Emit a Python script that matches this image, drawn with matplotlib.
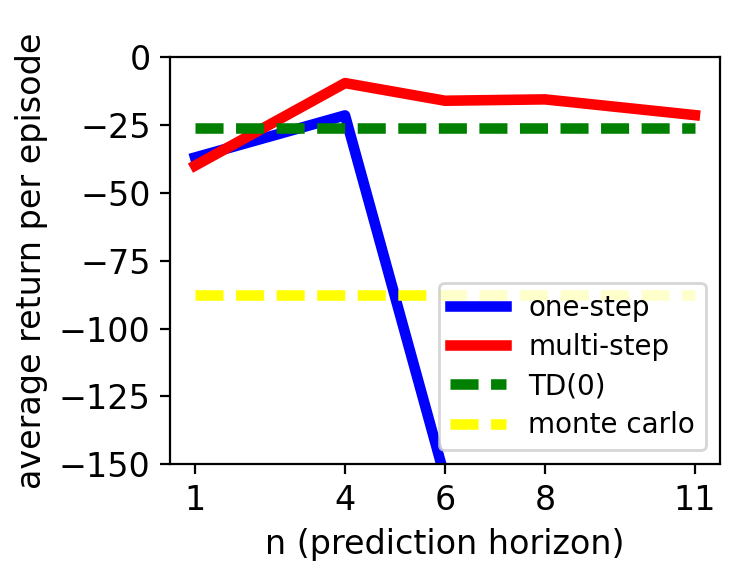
import matplotlib
matplotlib.use("Agg")
import matplotlib.pyplot as plt

horizons = [1, 4, 6, 8, 11]
one_step = [-37, -21.5, -155, -400, -600]
multi_step = [-40, -9.6, -16.1, -15.6, -21.4]
td0 = -26
monte_carlo = -87.5

LW = 3.8
DASH = (10.1 / LW, 4.5 / LW)

fig = plt.figure(figsize=(3.73, 2.88), dpi=200)
ax = fig.add_axes([0.228, 0.194, 0.737, 0.707])

ax.plot(horizons, one_step, color="blue", lw=LW, label="one-step")
ax.plot(horizons, multi_step, color="red", lw=LW, label="multi-step")
ax.plot(horizons, [td0] * len(horizons), color="green", lw=LW,
        dashes=DASH, label="TD(0)")
ax.plot(horizons, [monte_carlo] * len(horizons), color="yellow", lw=LW,
        dashes=DASH, label="monte carlo")

ax.set_ylim(-150, 0)
ax.set_xlim(0.5, 11.5)
ax.set_xticks(horizons)
ax.set_xticklabels([str(h) for h in horizons])
ax.tick_params(labelsize=12)
ax.set_xlabel("n (prediction horizon)", fontsize=12)
ax.set_ylabel("average return per episode", fontsize=12)
ax.legend(loc="lower right", fontsize=10, labelspacing=0.4)

fig.savefig("out.png", dpi=200)
